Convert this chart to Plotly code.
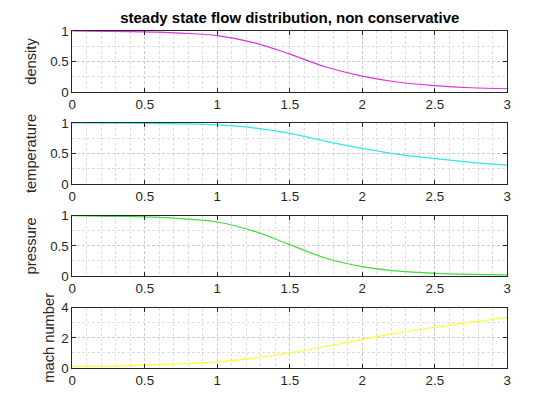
import plotly.graph_objects as go

# nozzle position, steps of 0.25
x = [0, 0.25, 0.5, 0.75, 1.0, 1.25, 1.5, 1.75, 2.0, 2.25, 2.5, 2.75, 3.0]

density = [1.0, 0.995, 0.985, 0.965, 0.925, 0.81, 0.62, 0.41, 0.26, 0.16, 0.105, 0.07, 0.053]
temperature = [1.0, 0.998, 0.994, 0.986, 0.968, 0.92, 0.83, 0.70, 0.585, 0.485, 0.415, 0.355, 0.31]
pressure = [1.0, 0.99, 0.98, 0.95, 0.895, 0.745, 0.52, 0.295, 0.155, 0.08, 0.045, 0.028, 0.02]
mach = [0.09, 0.13, 0.19, 0.27, 0.40, 0.66, 1.0, 1.43, 1.90, 2.33, 2.70, 3.04, 3.35]

labels = ['density', 'temperature', 'pressure', 'mach number']
series = [density, temperature, pressure, mach]
colors = ['#e030e0', '#30e8e8', '#40dd40', '#ffff30']
yranges = [[0, 1], [0, 1], [0, 1], [0, 4]]
ydticks = [0.5, 0.5, 0.5, 2]
yminor = [0.25, 0.25, 0.25, 1]
standoffs = [9, 9, 9, 3]

# page body has an 8px margin, so the figure is drawn 8px in from the window edge
off = 8
W, H = 560 - off, 420 - off
# panel top/bottom in window pixels
panels = [(31, 92), (123, 184), (215.7, 276), (307.7, 368)]
xdom = [(72.3 - off) / W, (507.3 - off) / W]

fig = go.Figure()
axis_col = '#262626'
tick_font = dict(family='Liberation Sans, Arial', size=13.3, color=axis_col)

for i in range(4):
    n = '' if i == 0 else str(i + 1)
    fig.add_trace(go.Scatter(x=x, y=series[i], mode='lines', line_shape='spline',
                             line=dict(color=colors[i], width=1.2),
                             xaxis='x' + n, yaxis='y' + n, showlegend=False))
    top, bot = panels[i]
    common = dict(showline=True, linecolor=axis_col, linewidth=1, mirror='ticks',
                  ticks='inside', ticklen=4, tickcolor=axis_col, tickfont=tick_font,
                  showgrid=True, gridcolor='#cccccc', griddash='3px,2px', gridwidth=1,
                  zeroline=False, automargin=False)
    fig.layout['xaxis' + n] = dict(common, domain=xdom, range=[0, 3], dtick=0.5,
                                   anchor='y' + n,
                                   minor=dict(dtick=0.1, showgrid=True, gridcolor='#dedede',
                                              griddash='3px,2px', ticks=''))
    fig.layout['yaxis' + n] = dict(common,
                                   domain=[1 - (bot - off) / H, 1 - (top - off) / H],
                                   range=yranges[i], dtick=ydticks[i], anchor='x' + n,
                                   title=dict(text=labels[i], standoff=standoffs[i],
                                              font=dict(family='Liberation Sans, Arial',
                                                        size=14.7, color=axis_col)),
                                   minor=dict(dtick=yminor[i], showgrid=True, gridcolor='#dedede',
                                              griddash='3px,2px', ticks=''))

fig.update_layout(
    width=W, height=H,
    margin=dict(l=0, r=0, t=0, b=0),
    paper_bgcolor='white', plot_bgcolor='white',
    title=dict(text='<b>steady state flow distribution, non conservative</b>',
               x=(289.8 - off) / W, xanchor='center', y=1 - (18 - off) / H, yanchor='middle',
               font=dict(family='Liberation Sans, Arial', size=15, color='black')),
)

fig.write_html('out.html')
